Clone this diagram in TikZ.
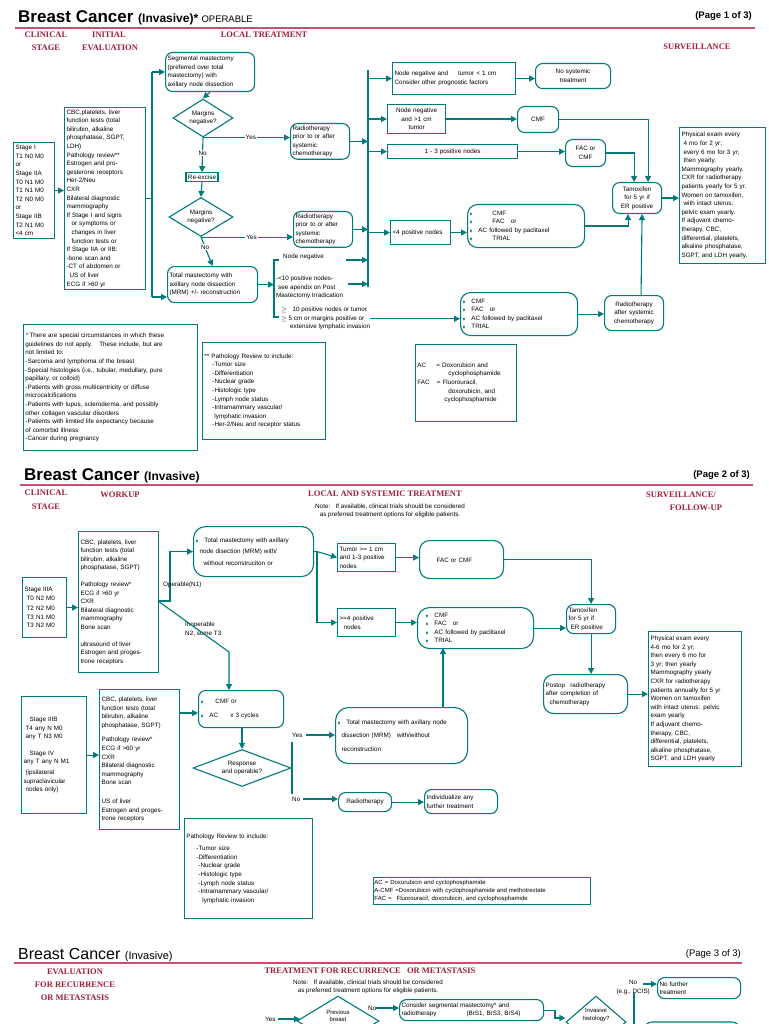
\documentclass[tikz,border=0pt]{standalone}
\usepackage{fontspec}
\usepackage{amssymb}
\setmainfont{Liberation Sans}
\newfontfamily\hdfam{Liberation Serif}
\usetikzlibrary{arrows.meta,shapes.geometric,calc}
\definecolor{tl}{RGB}{0,122,122}
\definecolor{mr}{RGB}{160,30,60}
\definecolor{rl}{RGB}{200,80,110}
\newcommand\sm{\fontsize{6.3}{8.6}\selectfont}
\newcommand\bl{\textcolor{tl}{\scalebox{0.6}{$\blacklozenge$}}\hspace{6pt}}
\begin{document}
\begin{tikzpicture}[x=1pt,y=-1pt,
 sq/.style={draw=tl, line width=1.1pt, inner sep=2pt, align=left, anchor=north west, font=\sm},
 rd/.style={sq, rounded corners=7pt},
 ar/.style={draw=tl, line width=1.1pt, -{Triangle[length=6pt,width=6pt]}},
 ln/.style={draw=tl, line width=1.1pt},
 dia/.style={diamond, draw=tl, line width=1.1pt, aspect=2, inner sep=0pt, align=center, font=\sm},
 hd/.style={font=\hdfam\bfseries\fontsize{8.5}{9}\selectfont, text=mr, inner sep=0pt},
 tx/.style={font=\sm, inner sep=0pt, align=left},
 lb/.style={font=\sm, fill=white, inner sep=1pt},
 ttl/.style={anchor=base west, inner sep=0pt}]
\useasboundingbox (0,0) rectangle (768,1024);
\fill[white] (0,0) rectangle (768,1024);
% ================= PAGE 1 =================
\node[ttl] (t1) at (18,23) {\fontsize{17}{17}\selectfont\bfseries Breast Cancer \fontsize{12}{12}\selectfont(Invasive)* \fontsize{9.5}{10}\mdseries\selectfont OPERABLE};
\node[anchor=base east, inner sep=0pt, font=\bfseries\fontsize{9.5}{10}\selectfont] (p1) at (752,19) {(Page 1 of 3)};
\draw[rl, line width=1.2pt] (15,28) -- (755,28);
\node[hd] (h1) at (46,35) {CLINICAL};
\node[hd] (h2) at (46,48) {STAGE};
\node[hd] (h3) at (109,35) {INITIAL};
\node[hd] (h4) at (110,48) {EVALUATION};
\node[hd] (h5) at (264,35) {LOCAL TREATMENT};
\node[hd] (h6) at (697,47) {SURVEILLANCE};

\node[sq, text width=37, minimum height=96] (s1) at (13,142) {Stage I\\T1 N0 M0\\or\\Stage IIA\\T0 N1 M0\\T1 N1 M0\\T2 N0 M0\\or\\Stage IIB\\T2 N1 M0\\<4 cm};
\node[sq, text width=77, minimum height=182] (ev) at (64,107) {CBC,platelets, liver\\function tests (total\\bilirubin, alkaline\\phosphatase, SGPT,\\LDH)\\Pathology review**\\Estrogen and pro-\\gesterone receptors\\Her-2/Neu\\CXR\\Bilateral diagnostic\\mammography\\If Stage I and signs\\\hspace*{5pt}or symptoms or\\\hspace*{5pt}changes in liver\\\hspace*{5pt}function tests or\\If Stage IIA or IIB:\\-bone scan and\\-CT of abdomen or\\\hspace*{3pt}US of liver\\ECG if >60 yr};
\draw[ar] (s1.east) -- (s1.east -| ev.west);
\coordinate (b1t) at (152,72);
\coordinate (b1b) at (152,297);
\draw[ln] (b1t) -- (b1b);
\draw[ln] (ev.east) -- (ev.east -| b1t);

\node[rd, text width=85, minimum height=39] (seg) at (165,52) {Segmental mastectomy\\(preferred over total\\mastectomy) with\\axillary node dissection};
\draw[ar] (b1t) -- (b1t -| seg.west);
\node[dia, minimum width=60, minimum height=38] (d1) at (203,118) {Margins\\negative?};
\draw[ar] (seg.south) -- (d1.north);
\node[sq, anchor=center, inner sep=2pt] (re) at (202,177) {Re-excise};
\draw[ar] (d1.south) -- (re.north) node[lb, pos=.45]{No};
\node[rd, text width=55, minimum height=34, inner sep=2pt] (r1) at (290,123) {Radiotherapy\\prior to or after\\systemic\\chemotherapy};
\draw[ar] (d1.south) -- (d1.south -| r1.west) node[lb, pos=.55]{Yes};
\node[dia, minimum width=64, minimum height=39] (d2) at (201,217) {Margins\\negative?};
\draw[ar] (re.south) -- (d2.north);
\node[rd, text width=55, minimum height=35] (r2) at (293,211) {Radiotherapy\\prior to or after\\systemic\\chemotherapy};
\draw[ar] (d2.south) -- (d2.south -| r2.west) node[lb, pos=.55]{Yes};
\node[rd, text width=86, minimum height=36] (tm) at (167,266) {Total mastectomy with\\axillary node dissection\\(MRM) +/- reconstruction};
\draw[ar] (d2.south) -- (tm.north) node[lb, pos=.35]{No};
\draw[ar] (b1b) -- (b1b -| tm.west);

\coordinate (b2t) at (368,70);
\coordinate (b2b) at (368,287);
\draw[ln, line width=1.4pt] (b2t) -- (b2b);
\draw[ar] (r1.east) -- (r1.east -| b2t);
\draw[ar] (r2.east) -- (r2.east -| b2t);
\draw[ln] (279,260) -- (274,260) -- (274,317) -- (279,317);
\coordinate (brk) at (274,284);
\draw[ar] (tm.east) -- (tm.east -| brk);
\node[tx, anchor=west] (nn) at (283,257) {Node negative};
\coordinate (cnn) at (346,260);
\draw[ar] (cnn) -- (cnn -| b2t);
\node[tx, anchor=north west] (t10) at (276,276) {-<10 positive nodes-\\\hspace*{2pt}see apendix on Post\\Mastectomy Irradication};
\coordinate (c10) at (348,284);
\draw[ar] (c10) -- (c10 -| b2t);
\node[tx, anchor=north west] (g10) at (281,307) {$\geq$\hspace{4pt} 10 positive nodes or tumor\\$\geq$ 5 cm or margins positive or\\\hspace*{9pt}extensive lymphatic invasion};

\node[sq, text width=119, minimum height=32] (n1) at (392,62) {Node negative and\hspace{8pt} tumor < 1 cm\\Consider other prognostic factors};
\node[sq, text width=54, minimum height=29, align=center] (n2) at (387,104) {Node negative\\and >1 cm\\tumor};
\node[sq, text width=126, minimum height=14, align=center] (n13) at (387,144) {1 - 3 positive nodes};
\node[sq, text width=56, minimum height=24] (n4) at (390,220) {<4 positive nodes};
\foreach \n in {n1,n2,n13,n4} \draw[ar] (\n.west -| b2t) -- (\n.west);
\node[rd, text width=71, minimum height=25, align=center] (ns) at (535,63) {No systemic\\treatment};
\draw[ar] (n1.east) -- (n1.east -| ns.west);
\node[rd, text width=37, minimum height=26, align=center] (cma) at (517,106) {CMF};
\draw[ar] (n2.east) -- (n2.east -| cma.west);
\node[rd, text width=36, minimum height=27, align=center] (fc) at (565,139) {FAC or\\CMF};
\draw[ar] (n13.east) -- (n13.east -| fc.west);
\node[rd, text width=113, minimum height=43, rounded corners=10pt] (cl1) at (467,204) {\bl\hspace{14pt}CMF\\\bl\hspace{14pt}FAC\hspace{4pt} or\\\bl AC followed by paclitaxel\\\bl\hspace{14pt}TRIAL};
\draw[ar] (n4.east) -- (n4.east -| cl1.west);
\node[rd, text width=113, minimum height=43, rounded corners=10pt] (cl2) at (460,292) {\bl CMF\\\bl FAC\hspace{4pt} or\\\bl AC followed by paclitaxel\\\bl TRIAL};
\draw[ar] (g10.east) -- (g10.east -| cl2.west);
\node[rd, text width=55, minimum height=35, align=center] (rt) at (604,295) {Radiotherapy\\after systemic\\chemotherapy};
\draw[ar] (cl2.east) -- (cl2.east -| rt.west);
\node[rd, text width=45, minimum height=31, align=center] (tam) at (612,182) {Tamoxifen\\for 5 yr if\\ER positive};
\draw[ar] (cma.east) -| ([xshift=11pt]tam.north);
\draw[ar] (fc.east) -| ([xshift=-3pt]tam.north);
\draw[ar] (cl1.east) -| ([xshift=-9pt]tam.south);
\draw[ar] ([xshift=7pt]rt.north) -- ([xshift=5pt]tam.south);
\node[sq, text width=82, minimum height=136] (sv1) at (679,127) {Physical exam every\\\hspace*{2pt}4 mo for 2 yr;\\\hspace*{2pt}every 6 mo for 3 yr;\\\hspace*{2pt}then yearly.\\Mammography yearly.\\CXR for radiotherapy\\patients yearly for 5 yr.\\Women on tamoxifen,\\\hspace*{2pt}with intact uterus:\\pelvic exam yearly.\\If adjuvant chemo-\\therapy, CBC,\\differential, platelets,\\alkaline phosphatase,\\SGPT, and LDH yearly.};
\draw[ar] (tam.east) -- (tam.east -| sv1.west);

\node[sq, text width=170, minimum height=126, line width=0.9pt] (f1) at (23,324) {$^*$There are special circumstances in which these\\guidelines do not apply.\hspace{4pt} These include, but are\\not limited to:\\-Sarcoma and lymphoma of the breast\\-Special histologies (i.e., tubular, medullary, pure\\papillary, or colloid)\\-Patients with gross multicentricity or diffuse\\microcalcifications\\-Patients with lupus, scleroderma, and possibly\\other collagen vascular disorders\\-Patients with limited life expectancy because\\of comorbid illness\\-Cancer during pregnancy};
\node[sq, text width=119, minimum height=97, line width=0.9pt] (f2) at (202,342) {** Pathology Review to include:\\\hspace*{8pt}-Tumor size\\\hspace*{8pt}-Differentiation\\\hspace*{8pt}-Nuclear grade\\\hspace*{8pt}-Histologic type\\\hspace*{8pt}-Lymph node status\\\hspace*{8pt}-Intramammary vascular/\\\hspace*{10pt}lymphatic invasion\\\hspace*{8pt}-Her-2/Neu and receptor status};
\node[sq, text width=97, minimum height=77, line width=0.9pt] (f3) at (415,344) {AC\hspace{8pt} = Doxorubicin and\\\hspace*{31pt}cyclophosphamide\\FAC\hspace{5pt} = Fluorouracil,\\\hspace*{31pt}doxorubicin, and\\\hspace*{27pt}cyclophosphamide};

% ================= PAGE 2 =================
\node[ttl] (t2) at (24,480) {\fontsize{17}{17}\selectfont\bfseries Breast Cancer \fontsize{12}{12}\selectfont(Invasive)};
\node[anchor=base east, inner sep=0pt, font=\bfseries\fontsize{9.5}{10}\selectfont] (p2) at (750,477) {(Page 2 of 3)};
\draw[rl, line width=1.2pt] (20,485) -- (753,485);
\node[hd] (h21) at (46,493) {CLINICAL};
\node[hd] (h22) at (46,507) {STAGE};
\node[hd] (h23) at (120,495) {WORKUP};
\node[hd] (h24) at (385,494) {LOCAL AND SYSTEMIC TREATMENT};
\node[tx, align=center] (nt2) at (390,511) {Note:\hspace{3pt} If available, clinical trials should be considered\\as preferred treatment options for eligible patients.};
\node[hd] (h25) at (681,495) {SURVEILLANCE/};
\node[hd] (h26) at (696,508) {FOLLOW-UP};

\node[sq, text width=40, minimum height=60] (s2) at (22,577) {Stage IIIA\\\hspace*{2pt}T0 N2 M0\\[2pt]\hspace*{2pt}T2 N2 M0\\\hspace*{2pt}T3 N1 M0\\\hspace*{2pt}T3 N2 M0};
\node[sq, text width=76, minimum height=141] (w1) at (78,531) {CBC, platelets, liver\\function tests (total\\bilirubin, alkaline\\phosphatase, SGPT)\\[8pt]Pathology review*\\ECG if >60 yr\\CXR\\Bilateral diagnostic\\mammography\\Bone scan\\[8pt]ultrasound of liver\\Estrogen and proges-\\trone receptors};
\draw[ar] (s2.east) -- (s2.east -| w1.west);
\node[rd, text width=116, minimum height=50, rounded corners=12pt] (tm2a) at (193,526) {\bl Total mastectomy with axillary\\[3pt]\hspace*{4pt}node disection (MRM) with/\\[3pt]\hspace*{8pt}without reconstruciton or};
\coordinate (op) at (170,601);
\coordinate (w1o) at (158,601);
\draw[ar] (w1o) -- (op) |- (tm2a.west);
\node[tx, anchor=west] (opl) at (163,585) {Operable(N1)};
\node[tx, anchor=north west] (inl) at (185,622) {Inoperable\\N2, some T3};
\node[rd, text width=81, minimum height=37] (cmo) at (198,690) {\bl\hspace{6pt}CMF or\\[6pt]\bl AC\hspace{10pt} x 3 cycles};
\coordinate (ib) at (229,652);
\coordinate (ie) at (229,690);
\draw[ar] (w1o) -- (ib) -- (ie);
\coordinate (sp) at (317,557);
\node[sq, text width=54, minimum height=28, inner sep=2pt] (tu) at (337,543) {Tumor >= 1 cm\\and 1-3 positive\\nodes};
\node[sq, text width=54, minimum height=28] (g4) at (337,608) {>=4 positive\\\hspace*{4pt}nodes};
\draw[ar] (tm2a.east -| sp) -- (tu.west);
\draw[ln] (tm2a.east) -- (tm2a.east -| sp);
\draw[ar] (tm2a.east -| sp) |- (g4.west);
\node[rd, text width=80, minimum height=38, rounded corners=10pt] (fc2) at (419,540) {\\[-2pt]\hspace*{15pt}FAC or CMF\\[12pt]};
\draw[ar] (tu.east) -- (tu.east -| fc2.west);
\node[rd, text width=112, minimum height=41, rounded corners=12pt] (cl3) at (417,607) {\hspace*{6pt}\bl CMF\\\hspace*{6pt}\bl FAC\hspace{4pt} or\\\hspace*{6pt}\bl AC followed by paclitaxel\\\hspace*{6pt}\bl TRIAL};
\draw[ar] (g4.east) -- (g4.east -| cl3.west);
\node[rd, text width=45, minimum height=29, align=left] (tam2) at (566,604) {Tamoxifen\\for 5 yr if\\\hspace*{2pt}ER positive};
\draw[ar] (fc2.east) -| (tam2.north);
\draw[ar] (cl3.east) -- (cl3.east -| tam2.west);
\node[rd, text width=80, minimum height=39, rounded corners=10pt] (po) at (543,674) {Postop\hspace{3pt} radiotherapy\\after completion of\\\hspace*{4pt}chemotherapy};
\draw[ar] (tam2.south) -- (tam2.south |- po.north);
\node[sq, text width=89, minimum height=135] (sv2) at (648,631) {Physical exam every\\4-6 mo for 2 yr;\\then every 6 mo for\\3 yr; then yearly\\Mammography yearly\\CXR for radiotherapy\\patients annually for 5 yr\\Women on tamoxifen\\with intact uterus: pelvic\\exam yearly\\If adjuvant chemo-\\therapy, CBC,\\differential, platelets,\\alkaline phosphatase,\\SGPT, and LDH yearly};
\draw[ar] (po.east) -- (po.east -| sv2.west);

\node[sq, text width=61, minimum height=117] (s3) at (21,696) {\hspace*{6pt}Stage IIIB\\\hspace*{2pt}T4 any N M0\\\hspace*{2pt}any T N3 M0\\[8pt]\hspace*{6pt}Stage IV\\any T any N M1\\[2pt]\hspace*{2pt}(ipsilateral\\supraclavicular\\\hspace*{2pt}nodes only)};
\node[sq, text width=76, minimum height=140] (w2) at (99,689) {CBC, platelets, liver\\function tests (total\\bilirubin, alkaline\\phosphatase, SGPT)\\[6pt]Pathology review*\\ECG if >60 yr\\CXR\\Bilateral diagnostic\\mammography\\Bone scan\\[10pt]US of liver\\Estrogen and proges-\\trone receptors};
\draw[ar] (s3.east) -- (s3.east -| w2.west);
\coordinate (w2o) at (179,713);
\draw[ar] (w2o) -- (w2o -| cmo.west);
\node[dia, minimum width=98, minimum height=37] (rsp) at (242,768) {Response\\and operable?};
\draw[ar] (cmo.south -| rsp.north) -- (rsp.north);
\coordinate (yn) at (292,768);
\draw[ln] (rsp.east) -- (yn);
\draw[ln] (292,742) -- (292,794);
\node[rd, text width=128, minimum height=56, rounded corners=13pt] (tm2b) at (335,707) {\bl Total mastectomy with axillary node\\[5pt]\hspace*{4pt}dissection (MRM)\hspace{4pt} with/without\\[5pt]\hspace*{4pt}reconstruction};
\node[tx, anchor=west] (yl) at (292,735) {Yes};
\draw[ar] ([xshift=3pt]yl.east) -- (yl.east -| tm2b.west);
\coordinate (upb) at (443,707);
\coordinate (upt) at (443,648);
\draw[ar] (upb) -- (upt);
\node[rd, text width=49, minimum height=19, align=center] (rad) at (338,792) {Radiotherapy};
\node[tx, anchor=west] (nl) at (292,799) {No};
\draw[ar] ([xshift=3pt]nl.east) -- (nl.east -| rad.west);
\node[rd, text width=69, minimum height=24] (ind) at (424,789) {Individualize any\\further treatment};
\draw[ar] (rad.east) -- (rad.east -| ind.west);
\node[sq, text width=124, minimum height=100, line width=0.9pt] (pr2) at (184,818) {\\[-4pt]Pathology Review to include:\\[4pt]\hspace*{10pt}-Tumor size\\\hspace*{10pt}-Differentiation\\\hspace*{12pt}-Nuclear grade\\\hspace*{12pt}-Histologic type\\\hspace*{12pt}-Lymph node status\\\hspace*{12pt}-Intramammary vascular/\\\hspace*{16pt}lymphatic invasion};
\node[sq, text width=215, minimum height=27, inner sep=1pt, line width=0.9pt, font=\fontsize{6}{8}\selectfont] (ab2) at (373,877) {AC = Doxorubicin and cyclophosphamide\\A-CMF =Doxorubicin with cyclophosphamide and methotrextate\\FAC =\hspace{3pt} Fluorouracil, doxorubicin, and cyclophosphamide};

% ================= PAGE 3 =================
\node[ttl] (t3) at (18,959) {\fontsize{16}{16}\selectfont Breast Cancer \fontsize{11}{11}\selectfont(Invasive)};
\node[anchor=base east, inner sep=0pt, font=\fontsize{9.5}{10}\selectfont] (p3) at (741,956) {(Page 3 of 3)};
\draw[rl, line width=1.2pt] (14,963) -- (742,963);
\node[hd] (h31) at (75,972) {EVALUATION};
\node[hd] (h32) at (75,985) {FOR RECURRENCE};
\node[hd] (h33) at (75,998) {OR METASTASIS};
\node[hd] (h34) at (370,971) {TREATMENT FOR RECURRENCE\hspace{4pt} OR METASTASIS};
\node[tx, align=center] (nt3) at (368,987) {Note:\hspace{3pt} If available, clinical trials should be considered\\as preferred treatment options for eligible patients.};
\node[dia, minimum width=82, minimum height=50] (pb) at (338,1021) {};
\node[tx, align=center, font=\fontsize{6}{7.5}\selectfont] (pbt) at (338,1016) {Previous\\breast};
\node[tx, anchor=west] (pno) at (368,1008) {No};
\node[rd, text width=140, minimum height=21] (cs) at (399,999) {Consider segmental mastectomy* and\\radiotherapy\hspace{30pt}(BrS1, BrS3, BrS4)};
\draw[ar] (pno.east) -- (pno.east -| cs.west);
\node[dia, minimum width=60, minimum height=52] (inv) at (596,1022) {};
\node[tx, align=center, font=\fontsize{6}{7.5}\selectfont] (invt) at (596,1015) {Invasive\\histology?};
\coordinate (ci) at (555,1018);
\draw[ar] (cs.east) -| (ci) -- (ci -| inv.west);
\node[tx, anchor=north east, align=center] (dno) at (650,980) {No\\(e.g., DCIS)};
\node[rd, text width=79, minimum height=21] (nf) at (657,977) {No further\\treatment};
\draw[ln] (634,993) -- (634,1024);
\coordinate (dn) at (643,984);
\draw[ar] (dn) -- (dn -| nf.west);
\node[tx, anchor=west] (y3) at (265,1019) {Yes};
\coordinate (y3e) at (300,1019);
\draw[ar] ([xshift=2pt]y3.east) -- (y3e);
\draw[ln, rounded corners=8pt] (644,1028) -- (644,1022) -- (740,1022) -- (740,1028);
\end{tikzpicture}
\end{document}
